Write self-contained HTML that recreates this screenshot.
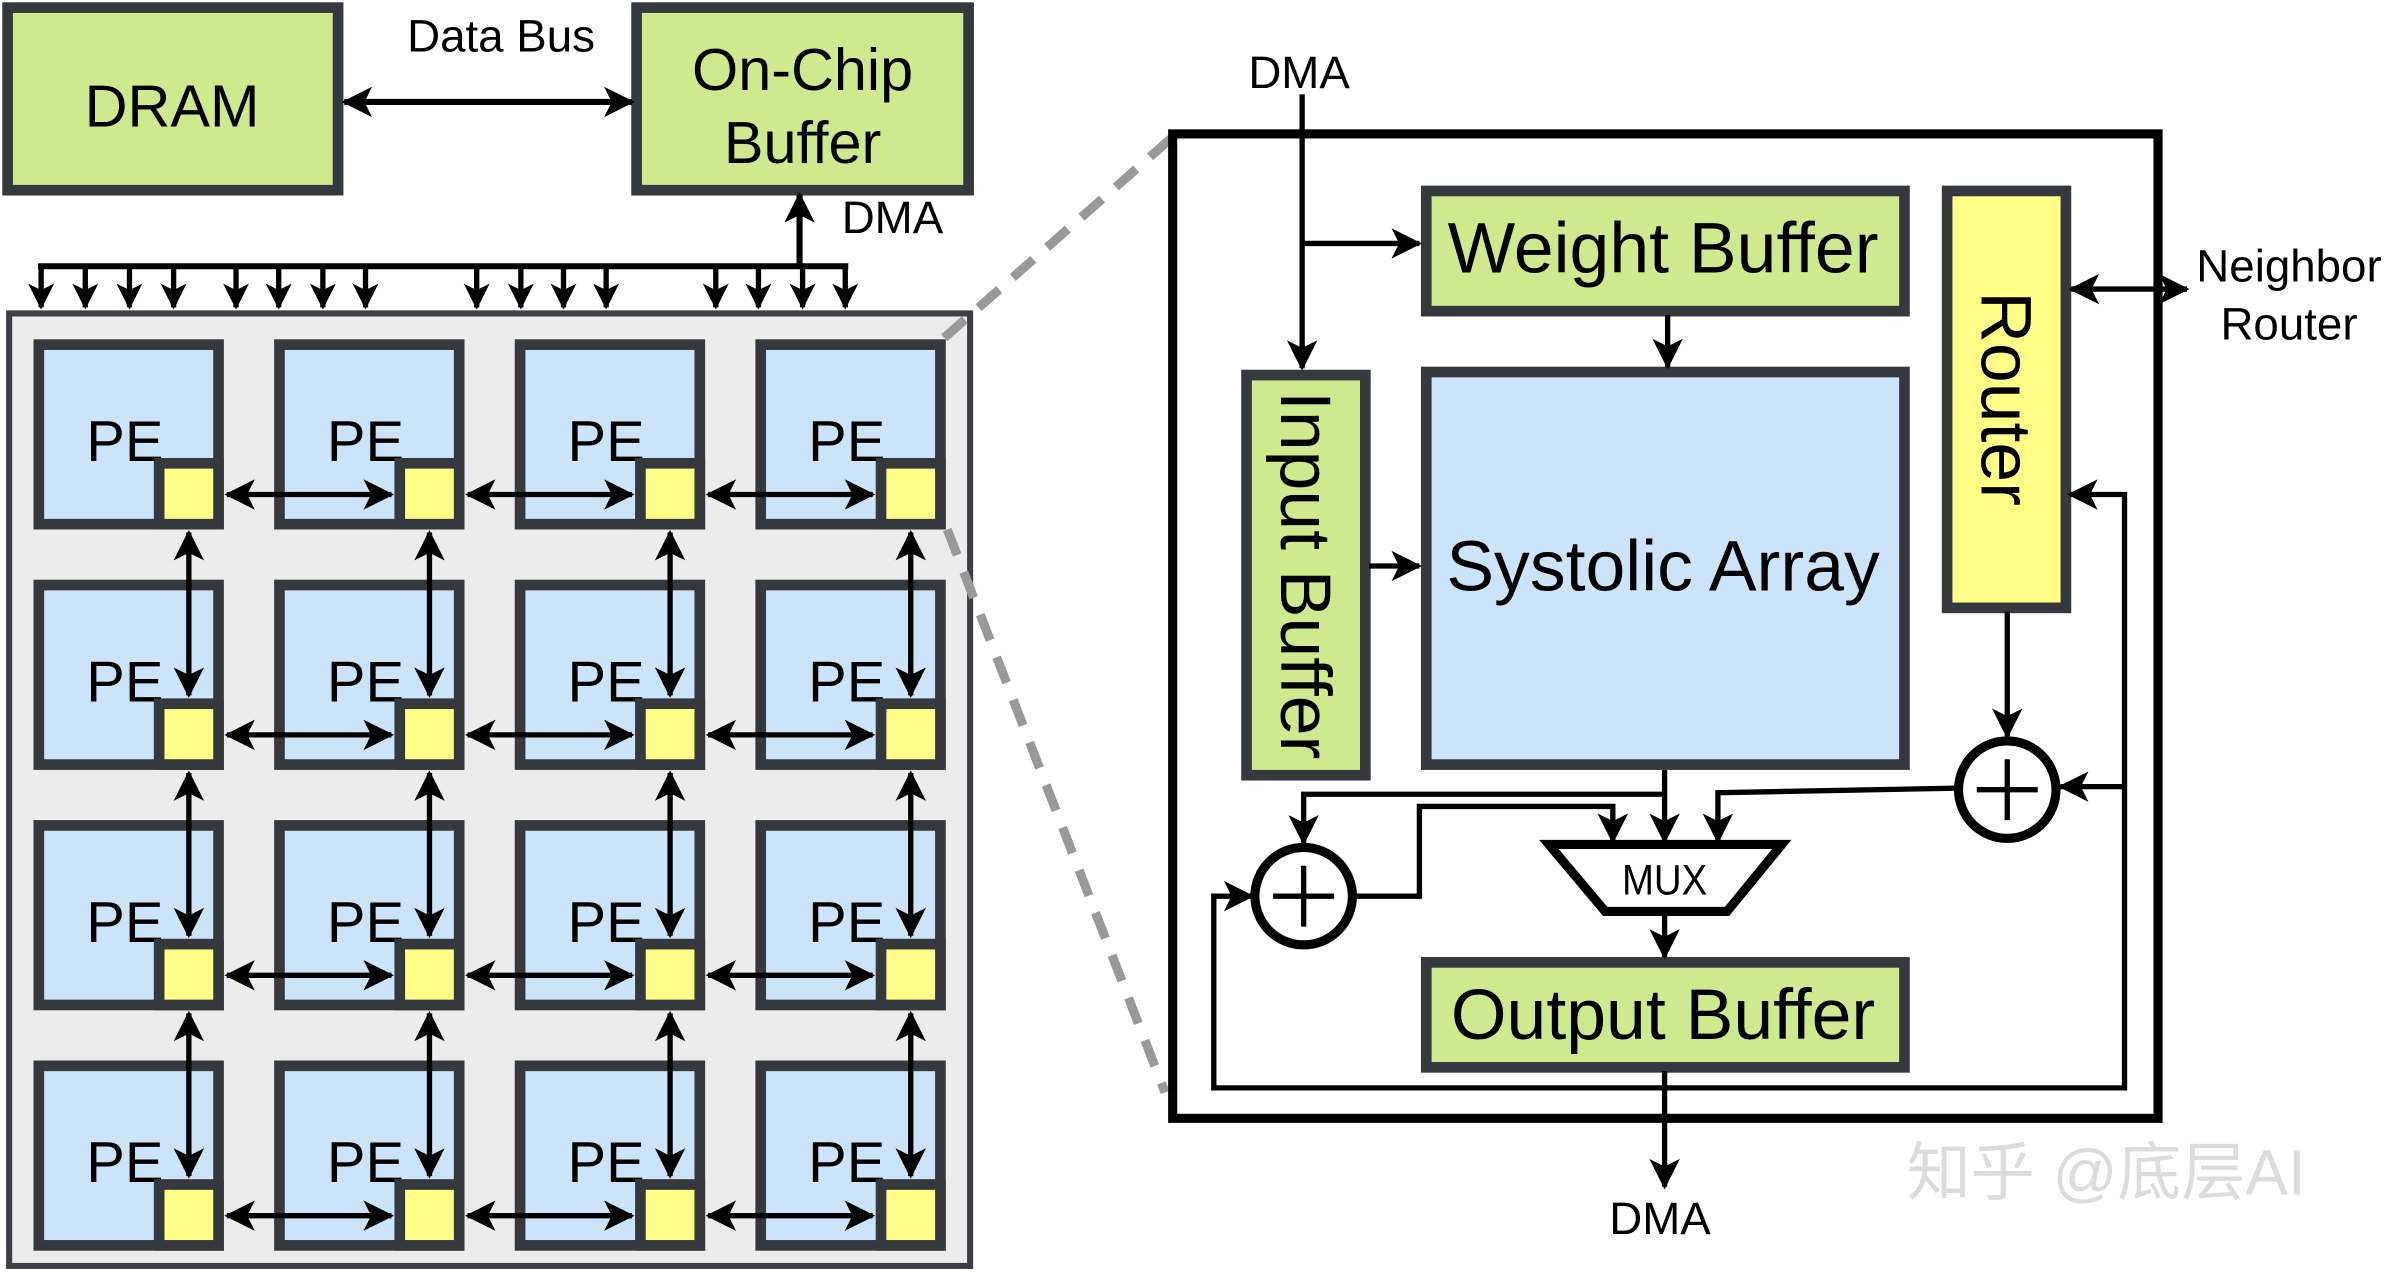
<!DOCTYPE html>
<html><head><meta charset="utf-8"><style>
html,body{margin:0;padding:0;background:#fff;}
svg{display:block;}
text{font-family:"Liberation Sans","Noto Sans CJK SC",sans-serif;fill:#000;}
</style></head><body>
<svg width="2388" height="1272" viewBox="0 0 1568 836" preserveAspectRatio="none" xmlns="http://www.w3.org/2000/svg">
<defs>
<marker id="a" viewBox="0 0 12 12" refX="11" refY="6" markerWidth="20" markerHeight="20" markerUnits="userSpaceOnUse" orient="auto-start-reverse">
<path d="M0,0 L12,6 L0,12 L3,6 z" fill="#000"/>
</marker>
<marker id="s" viewBox="0 0 12 12" refX="11" refY="6" markerWidth="17" markerHeight="17" markerUnits="userSpaceOnUse" orient="auto-start-reverse">
<path d="M0,0 L12,6 L0,12 L3,6 z" fill="#000"/>
</marker>
</defs>
<g stroke="#35383c" stroke-width="7">
<rect x="5" y="5" width="217" height="120" fill="#cfe98f"/>
<rect x="418" y="5" width="218" height="120" fill="#cfe98f"/>
</g>
<text x="113" y="83" font-size="39" text-anchor="middle">DRAM</text>
<text x="527" y="59" font-size="39" text-anchor="middle">On-Chip</text>
<text x="527" y="107" font-size="39" text-anchor="middle">Buffer</text>
<text x="329" y="34" font-size="30" text-anchor="middle">Data Bus</text>
<text x="586" y="153" font-size="30" text-anchor="middle">DMA</text>
<g stroke="#000" stroke-width="4" fill="none">
<line x1="226" y1="67" x2="415" y2="67" marker-start="url(#a)" marker-end="url(#a)"/>
<line x1="525" y1="128" x2="525" y2="175" marker-start="url(#a)"/>
<line x1="25" y1="175" x2="557" y2="175"/>
</g>
<g stroke="#000" stroke-width="3.5" marker-end="url(#s)">
<line x1="27" y1="175" x2="27" y2="202"/><line x1="56" y1="175" x2="56" y2="202"/><line x1="85" y1="175" x2="85" y2="202"/><line x1="114" y1="175" x2="114" y2="202"/>
<line x1="155" y1="175" x2="155" y2="202"/><line x1="183" y1="175" x2="183" y2="202"/><line x1="212" y1="175" x2="212" y2="202"/><line x1="240" y1="175" x2="240" y2="202"/>
<line x1="313" y1="175" x2="313" y2="202"/><line x1="342" y1="175" x2="342" y2="202"/><line x1="370" y1="175" x2="370" y2="202"/><line x1="398" y1="175" x2="398" y2="202"/>
<line x1="470" y1="175" x2="470" y2="202"/><line x1="498" y1="175" x2="498" y2="202"/><line x1="527" y1="175" x2="527" y2="202"/><line x1="555" y1="175" x2="555" y2="202"/>
</g>
<rect x="6" y="206" width="631" height="626" fill="#ececec" stroke="#3c3f44" stroke-width="4"/>
<g stroke="#35383c" stroke-width="7" fill="#cce4fa">
<rect x="25.5" y="226.5" width="118" height="118"/><rect x="183.5" y="226.5" width="118" height="118"/><rect x="341.5" y="226.5" width="118" height="118"/><rect x="499.5" y="226.5" width="118" height="118"/>
<rect x="25.5" y="384.5" width="118" height="118"/><rect x="183.5" y="384.5" width="118" height="118"/><rect x="341.5" y="384.5" width="118" height="118"/><rect x="499.5" y="384.5" width="118" height="118"/>
<rect x="25.5" y="542.5" width="118" height="118"/><rect x="183.5" y="542.5" width="118" height="118"/><rect x="341.5" y="542.5" width="118" height="118"/><rect x="499.5" y="542.5" width="118" height="118"/>
<rect x="25.5" y="700.5" width="118" height="118"/><rect x="183.5" y="700.5" width="118" height="118"/><rect x="341.5" y="700.5" width="118" height="118"/><rect x="499.5" y="700.5" width="118" height="118"/>
</g>
<g font-size="38" text-anchor="middle">
<text x="82" y="303">PE</text><text x="240" y="303">PE</text><text x="398" y="303">PE</text><text x="556" y="303">PE</text>
<text x="82" y="461">PE</text><text x="240" y="461">PE</text><text x="398" y="461">PE</text><text x="556" y="461">PE</text>
<text x="82" y="619">PE</text><text x="240" y="619">PE</text><text x="398" y="619">PE</text><text x="556" y="619">PE</text>
<text x="82" y="777">PE</text><text x="240" y="777">PE</text><text x="398" y="777">PE</text><text x="556" y="777">PE</text>
</g>
<g stroke="#35383c" stroke-width="7" fill="#ffff88">
<rect x="104.5" y="304.5" width="39" height="40"/><rect x="262.5" y="304.5" width="39" height="40"/><rect x="420.5" y="304.5" width="39" height="40"/><rect x="578.5" y="304.5" width="39" height="40"/>
<rect x="104.5" y="462.5" width="39" height="40"/><rect x="262.5" y="462.5" width="39" height="40"/><rect x="420.5" y="462.5" width="39" height="40"/><rect x="578.5" y="462.5" width="39" height="40"/>
<rect x="104.5" y="620.5" width="39" height="40"/><rect x="262.5" y="620.5" width="39" height="40"/><rect x="420.5" y="620.5" width="39" height="40"/><rect x="578.5" y="620.5" width="39" height="40"/>
<rect x="104.5" y="778.5" width="39" height="40"/><rect x="262.5" y="778.5" width="39" height="40"/><rect x="420.5" y="778.5" width="39" height="40"/><rect x="578.5" y="778.5" width="39" height="40"/>
</g>
<g stroke="#000" stroke-width="3.5" marker-start="url(#a)" marker-end="url(#a)">
<line x1="149" y1="325" x2="257" y2="325"/><line x1="307" y1="325" x2="415" y2="325"/><line x1="465" y1="325" x2="573" y2="325"/>
<line x1="149" y1="483" x2="257" y2="483"/><line x1="307" y1="483" x2="415" y2="483"/><line x1="465" y1="483" x2="573" y2="483"/>
<line x1="149" y1="641" x2="257" y2="641"/><line x1="307" y1="641" x2="415" y2="641"/><line x1="465" y1="641" x2="573" y2="641"/>
<line x1="149" y1="799" x2="257" y2="799"/><line x1="307" y1="799" x2="415" y2="799"/><line x1="465" y1="799" x2="573" y2="799"/>
<line x1="124" y1="350" x2="124" y2="457"/><line x1="282" y1="350" x2="282" y2="457"/><line x1="440" y1="350" x2="440" y2="457"/><line x1="598" y1="350" x2="598" y2="457"/>
<line x1="124" y1="508" x2="124" y2="615"/><line x1="282" y1="508" x2="282" y2="615"/><line x1="440" y1="508" x2="440" y2="615"/><line x1="598" y1="508" x2="598" y2="615"/>
<line x1="124" y1="666" x2="124" y2="773"/><line x1="282" y1="666" x2="282" y2="773"/><line x1="440" y1="666" x2="440" y2="773"/><line x1="598" y1="666" x2="598" y2="773"/>
</g>
<g stroke="#999" stroke-width="6" stroke-dasharray="18,12">
<line x1="620" y1="222" x2="770" y2="90"/>
<line x1="622" y1="348" x2="765" y2="718"/>
</g>
<rect x="770" y="88" width="647" height="647" fill="#fff" stroke="#000" stroke-width="6"/>
<g stroke="#35383c" stroke-width="7">
<rect x="936.5" y="125.5" width="314" height="79" fill="#cfe98f"/>
<rect x="936.5" y="244.5" width="314" height="258" fill="#cce4fa"/>
<rect x="818.5" y="246.5" width="78" height="263" fill="#cfe98f"/>
<rect x="1278.5" y="125.5" width="78" height="274" fill="#ffff88"/>
<rect x="936.5" y="632.5" width="314" height="69" fill="#cfe98f"/>
</g>
<text x="1092" y="179" font-size="47" text-anchor="middle">Weight Buffer</text>
<text x="1092" y="388" font-size="47" text-anchor="middle">Systolic Array</text>
<text x="1092" y="683" font-size="47" text-anchor="middle">Output Buffer</text>
<text transform="translate(841,378) rotate(90)" font-size="47" text-anchor="middle">Input Buffer</text>
<text transform="translate(1301,262) rotate(90)" font-size="47" text-anchor="middle">Router</text>
<text x="853" y="58" font-size="30" text-anchor="middle">DMA</text>
<text x="1503" y="185" font-size="30" text-anchor="middle">Neighbor</text>
<text x="1503" y="223" font-size="30" text-anchor="middle">Router</text>
<text x="1090" y="811" font-size="30" text-anchor="middle">DMA</text>
<g stroke="#000" stroke-width="3.5" fill="none">
<line x1="855" y1="62" x2="855" y2="242" marker-end="url(#a)"/>
<line x1="855" y1="160" x2="932" y2="160" marker-end="url(#a)"/>
<line x1="1095" y1="207" x2="1095" y2="241" marker-end="url(#a)"/>
<line x1="899" y1="372" x2="932" y2="372" marker-end="url(#a)"/>
<line x1="1360" y1="190" x2="1436" y2="190" marker-start="url(#a)" marker-end="url(#a)"/>
<line x1="1318" y1="402" x2="1318" y2="484" marker-end="url(#a)"/>
<line x1="1093" y1="506" x2="1093" y2="553" marker-end="url(#a)"/>
<polyline points="1093,522 856,522 856,554" marker-end="url(#a)"/>
<polyline points="890,589 932,589 932,530 1059,530 1059,553" marker-end="url(#a)"/>
<polyline points="1284,518 1128,521 1128,553" marker-end="url(#a)"/>
<polyline points="1359,325 1395,325 1395,715 797,715 797,589 822,589" marker-start="url(#a)" marker-end="url(#a)"/>
<line x1="1395" y1="517" x2="1353" y2="517" marker-end="url(#a)"/>
<line x1="1093" y1="602" x2="1093" y2="629" marker-end="url(#a)"/>
<line x1="1093" y1="704" x2="1093" y2="780" marker-end="url(#a)"/>
</g>
<g stroke="#000" stroke-width="6" fill="#fff">
<circle cx="856" cy="589" r="32"/>
<circle cx="1318" cy="519" r="32"/>
<polygon points="1017,555 1170,555 1134,599 1054,599"/>
</g>
<g stroke="#000" stroke-width="3.5">
<line x1="836" y1="589" x2="876" y2="589"/><line x1="856" y1="569" x2="856" y2="609"/>
<line x1="1298" y1="519" x2="1338" y2="519"/><line x1="1318" y1="499" x2="1318" y2="539"/>
</g>
<text x="1093" y="588" font-size="28" text-anchor="middle" transform="translate(1093,0) scale(0.9,1) translate(-1093,0)">MUX</text>
<text x="1383" y="785" font-size="42" text-anchor="middle" style="fill:#dcdcdc">知乎 @底层AI</text>
</svg>
</body></html>
